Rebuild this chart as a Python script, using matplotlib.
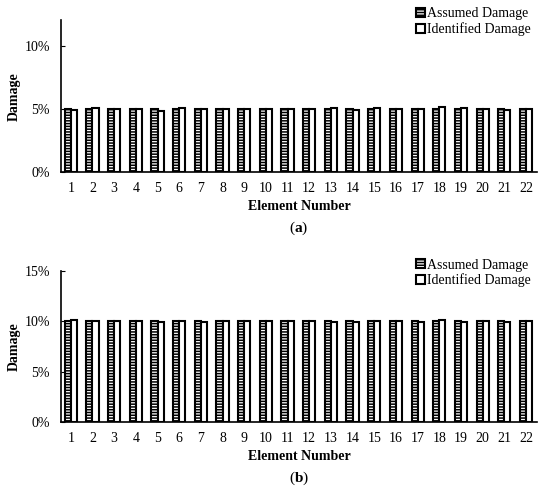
import matplotlib
matplotlib.use("Agg")
import matplotlib.pyplot as plt
import numpy as np
from matplotlib.ticker import FuncFormatter

plt.rcParams['font.family'] = ['Liberation Serif', 'DejaVu Serif']
plt.rcParams['mathtext.fontset'] = 'custom'
plt.rcParams['mathtext.rm'] = 'Liberation Serif'
plt.rcParams['mathtext.bf'] = 'Liberation Serif:bold'
plt.rcParams['hatch.linewidth'] = 1.1

elements = list(range(1, 22 + 1))

# case (a): 5% damage in every element
assumed_a = [5.0] * 22
identified_a = [4.9, 5.08, 5.0, 5.0, 4.8, 5.1, 4.98, 4.98, 5.02, 5.0, 5.02,
                4.98, 5.05, 4.93, 5.1, 4.98, 4.97, 5.12, 5.06, 5.0, 4.88, 5.02]

# case (b): 10% damage in every element
assumed_b = [10.0] * 22
identified_b = [10.1, 10.02, 10.0, 10.02, 9.9, 10.02, 9.9, 10.0, 10.0, 10.05, 10.0,
                10.0, 9.92, 9.95, 10.0, 10.08, 9.9, 10.12, 9.9, 10.05, 9.9, 10.0]

panels = [
    (assumed_a, identified_a, 12, [0, 5, 10], "a", [0.111, 0.650, 0.865, 0.309]),
    (assumed_b, identified_b, 15, [0, 5, 10, 15], "b", [0.111, 0.142, 0.865, 0.307]),
]

fig = plt.figure(figsize=(5.5, 4.92), dpi=100)
x = np.arange(1, 23)
w = 0.28

for assumed, identified, ymax, yticks, tag, rect in panels:
    ax = fig.add_axes(rect)
    ax.bar(x - w / 2, assumed, w, color='white', edgecolor='black', hatch='------',
           linewidth=1.5, label='Assumed Damage')
    ax.bar(x + w / 2, identified, w, color='white', edgecolor='black',
           linewidth=1.5, label='Identified Damage')
    ax.set_xlim(0.55, 22.5)
    ax.set_ylim(0, ymax)
    ax.set_yticks(yticks)
    ax.yaxis.set_major_formatter(FuncFormatter(lambda v, p: '%d%%' % v))
    ax.set_xticks(x)
    ax.set_xticklabels([str(e) for e in elements])
    ax.tick_params(axis='x', length=0, pad=7, labelsize=10)
    ax.tick_params(axis='y', direction='in', length=3, pad=8, labelsize=10)
    ax.spines['top'].set_visible(False)
    ax.spines['right'].set_visible(False)
    ax.spines['left'].set_linewidth(1.2)
    ax.spines['bottom'].set_linewidth(1.2)
    ax.set_ylabel('Damage', fontweight='bold', fontsize=10)
    ax.yaxis.set_label_coords(-0.085, 0.5)
    ax.set_xlabel('Element Number', fontweight='bold', fontsize=10, labelpad=4)
    ax.legend(loc='upper right', bbox_to_anchor=(1.0, 1.12), frameon=False,
              fontsize=10, handlelength=0.6, handleheight=0.6, handletextpad=0.2,
              labelspacing=0.15, borderaxespad=0)
    ax.text(0.5, -0.37, r'($\mathbf{%s}$)' % tag, transform=ax.transAxes,
            ha='center', va='center', fontsize=11)

fig.savefig('out.png', dpi=100)
